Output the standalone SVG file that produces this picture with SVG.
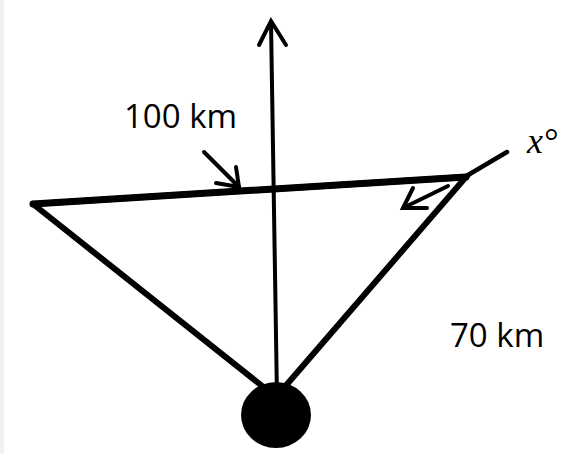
<svg xmlns="http://www.w3.org/2000/svg" width="582" height="454" viewBox="0 0 582 454">
<style>
.ln{stroke:#000;fill:none;stroke-linecap:round;stroke-linejoin:miter}
.lbl{font-family:"Open Sans","Liberation Sans",Arial,sans-serif;font-size:33px;fill:#000}
</style>
<rect x="0" y="0" width="582" height="454" fill="#fff"/>
<rect x="0" y="0" width="4" height="454" fill="#eef2f7"/>
<g id="triangle">
<polyline class="ln" points="33,204 466,177 276,397 33,204" stroke-width="6" stroke-linejoin="miter"/>
<line class="ln" x1="33" y1="204" x2="466" y2="177" stroke-width="7"/>
</g>
<g id="ship">
<ellipse cx="276" cy="415" rx="35" ry="33" fill="#000"/>
</g>
<g id="connectors">
<line class="ln" x1="277" y1="398" x2="271" y2="22" stroke-width="4"/>
<polyline class="ln" points="259,45 271,21 286,45" stroke-width="4"/>
<line class="ln" x1="463" y1="178" x2="507" y2="152" stroke-width="4.5"/>
<line class="ln" x1="204" y1="152" x2="239" y2="187" stroke-width="4"/>
<polyline class="ln" points="216,183 239,187 236,167" stroke-width="4"/>
<line class="ln" x1="448" y1="186" x2="403" y2="208" stroke-width="4"/>
<polyline class="ln" points="413,188 403,208 427,208" stroke-width="4"/>
</g>
<g id="labels">
<text class="lbl" x="124" y="128">100 km</text>
<text class="lbl" x="450" y="347">70 km</text>
<text x="527" y="153" font-family="'Liberation Serif','DejaVu Serif',serif" font-style="italic" font-size="36">x°</text>
</g>
</svg>
